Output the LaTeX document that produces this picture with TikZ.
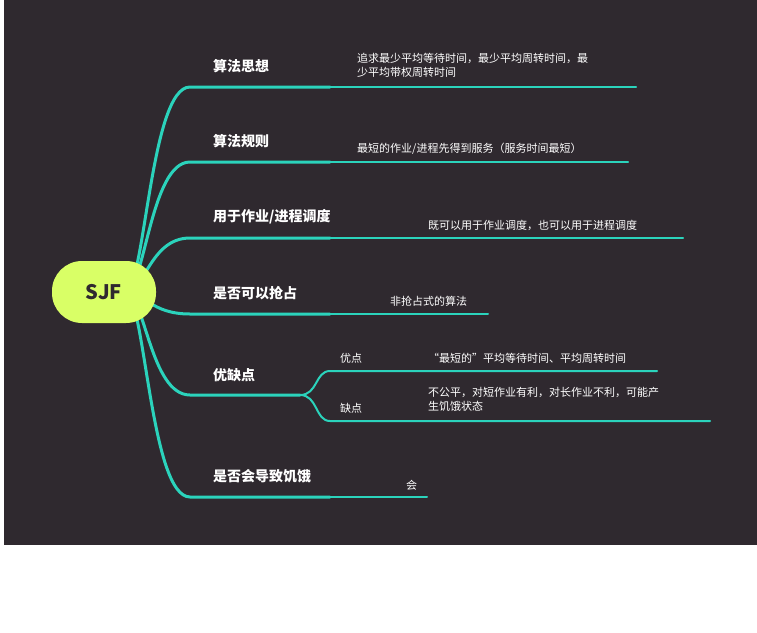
\documentclass[tikz,border=0pt]{standalone}
\usepackage{fontspec}
\setmainfont{Noto Sans CJK SC}
\begin{document}
\begin{tikzpicture}[x=1pt,y=-1pt,
  br/.style={draw=teal1,line width=3pt,line cap=round},
  th/.style={draw=teal1,line width=2pt,line cap=round},
  lab/.style={text=white,font=\bfseries\fontsize{14}{16}\selectfont,anchor=west,inner sep=0},
  sm/.style={text=white,font=\fontsize{11}{14}\selectfont,anchor=west,inner sep=0,align=left}]
\definecolor{teal1}{HTML}{2BD3BC}
\definecolor{bg}{HTML}{2F292F}
\useasboundingbox (0,0) rectangle (757,632);
\fill[white] (0,0) rectangle (757,632);
\fill[bg] (4,0) rectangle (757,545);
% branch end coordinates
\coordinate (s) at (125,292);
\foreach \n/\y/\e in {a/87/636,b/162/628,c/238/683,d/314/488,f/497/427}{
  \coordinate (\n0) at (190,\y);
  \coordinate (\n1) at (330,\y);
  \coordinate (\n2) at (\e,\y);
  \draw[br] (s) .. controls (145,292) and (150,\y) .. (\n0) -- (\n1);
  \draw[th] (\n1) -- (\n2);
}
\coordinate (e0) at (190,395);
\coordinate (e1) at (300,395);
\coordinate (p0) at (330,371);
\coordinate (p1) at (657,371);
\coordinate (q0) at (330,421);
\coordinate (q1) at (710,421);
\draw[br] (s) .. controls (145,292) and (150,395) .. (e0) -- (e1);
\draw[th] (e1) .. controls (318,395) and (315,371) .. (p0) -- (p1);
\draw[th] (e1) .. controls (318,395) and (315,421) .. (q0) -- (q1);
\node[fill=green!30!yellow!60!white,fill=lime!60,rounded corners=30pt,minimum width=104pt,minimum height=62pt,
  font=\bfseries\fontsize{20}{22}\selectfont,text=bg] (root) at (104,292) {SJF};
\node[lab] (la) at (213,66) {算法思想};
\node[lab] (lb) at (213,141) {算法规则};
\node[lab] (lc) at (213,217) {用于作业/进程调度};
\node[lab] (ld) at (213,293) {是否可以抢占};
\node[lab] (le) at (213,375) {优缺点};
\node[lab] (lf) at (213,476) {是否会导致饥饿};
\node[sm] (ta) at (357,65) {追求最少平均等待时间，最少平均周转时间，最\\少平均带权周转时间};
\node[sm] (tb) at (357,149) {最短的作业/进程先得到服务（服务时间最短）};
\node[sm] (tc) at (428,225) {既可以用于作业调度，也可以用于进程调度};
\node[sm] (td) at (390,301) {非抢占式的算法};
\node[sm] (tp) at (340,358) {优点};
\node[sm] (tq) at (340,408) {缺点};
\node[sm] (tp2) at (428,358) {“最短的”平均等待时间、平均周转时间};
\node[sm] (tq2) at (428,399) {不公平，对短作业有利，对长作业不利，可能产\\生饥饿状态};
\node[sm] (tf) at (406,485) {会};
\end{tikzpicture}
\end{document}
